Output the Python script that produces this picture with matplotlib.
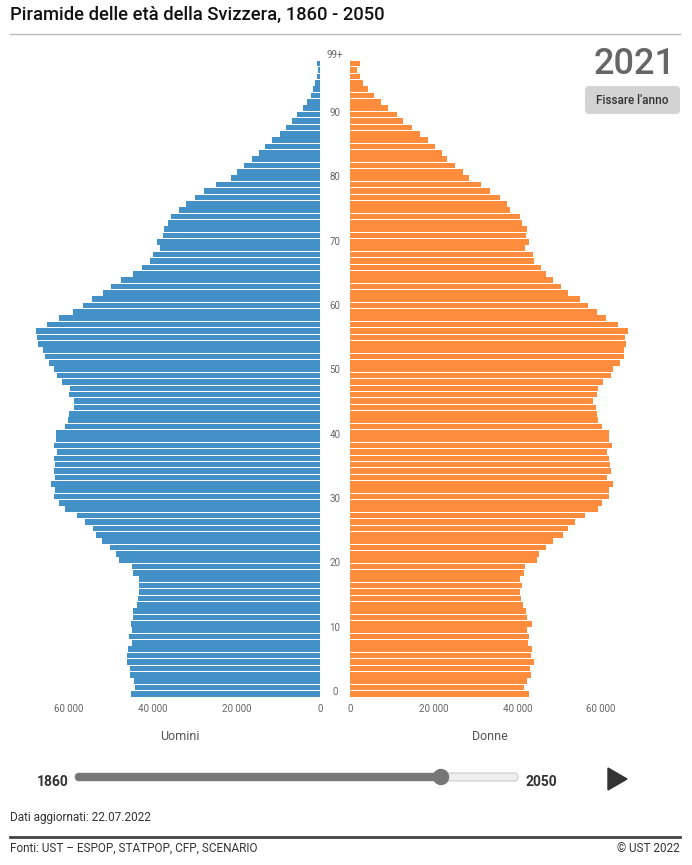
import matplotlib
matplotlib.use("Agg")
import matplotlib.pyplot as plt
from matplotlib.patches import FancyBboxPatch, Circle, Polygon
from matplotlib.transforms import blended_transform_factory

plt.rcParams['font.family'] = ['Roboto', 'DejaVu Sans']

# population by age (thousands), 2021
ages = list(range(100))
men = [45.2, 44.2, 44.5, 45.5, 45.5, 46.1, 46.1, 46.0, 44.9, 45.6,
       44.9, 45.2, 44.8, 44.8, 43.7, 43.4, 43.3, 43.3, 43.2, 44.6,
       44.9, 48.1, 48.7, 50.1, 52.0, 53.6, 54.2, 56.2, 58.2, 61.0,
       62.5, 63.7, 63.3, 64.4, 63.3, 63.6, 63.4, 63.6, 62.9, 63.7,
       63.2, 63.1, 61.0, 60.2, 59.9, 58.9, 58.7, 60.0, 59.8, 61.6,
       62.8, 63.5, 64.8, 65.7, 66.2, 67.4, 67.6, 68.0, 65.3, 62.5,
       59.0, 56.7, 54.4, 51.9, 50.0, 47.6, 44.7, 42.5, 40.6, 39.9,
       38.2, 38.9, 37.6, 37.3, 36.4, 35.7, 33.7, 32.0, 29.9, 27.8,
       24.8, 21.2, 19.9, 18.2, 16.3, 14.7, 13.2, 11.5, 9.6, 8.2,
       6.8, 5.4, 4.1, 3.1, 2.2, 1.6, 1.1, 0.7, 0.4, 0.6]
women = [42.9, 41.5, 42.3, 43.2, 43.1, 44.1, 43.3, 43.4, 42.5, 42.7,
         42.4, 43.4, 42.4, 42.0, 41.4, 40.9, 40.7, 41.0, 40.6, 41.5,
         41.8, 44.6, 45.2, 46.9, 48.6, 51.0, 52.0, 53.9, 56.1, 59.2,
         60.3, 61.8, 61.9, 62.9, 61.5, 62.3, 62.2, 62.0, 61.4, 62.6,
         61.9, 61.8, 60.2, 59.2, 59.0, 58.7, 58.2, 59.0, 59.3, 60.5,
         62.5, 62.9, 64.5, 65.4, 65.4, 66.1, 65.7, 66.5, 64.1, 61.2,
         59.0, 57.0, 55.0, 52.2, 50.5, 48.5, 46.8, 45.6, 44.1, 43.7,
         41.8, 42.7, 42.0, 42.2, 41.2, 40.6, 38.2, 37.5, 35.9, 33.5,
         31.2, 28.4, 26.9, 25.1, 23.2, 22.0, 20.4, 18.6, 16.7, 14.8,
         12.7, 11.2, 9.1, 7.3, 5.7, 4.4, 3.2, 2.4, 1.6, 2.5]
men = [v * 1000 for v in men]
women = [v * 1000 for v in women]

age_ticks = [0, 10, 20, 30, 40, 50, 60, 70, 80, 90, 99]
age_labels = ["0", "10", "20", "30", "40", "50", "60", "70", "80", "90", "99+"]
x_ticks = [0, 20000, 40000, 60000]
x_labels = ["0", "20 000", "40 000", "60 000"]

blue = "#4391c6"
orange = "#fd8d3c"

W, H = 692, 865
fig = plt.figure(figsize=(W / 100, H / 100), dpi=100)


def px_axes(x0, y0, x1, y1):
    return fig.add_axes([x0 / W, 1 - y1 / H, (x1 - x0) / W, (y1 - y0) / H])


ppu = 4.183 / 1000  # pixels per person
ylim = (-0.97, 101.15)

ax_l = px_axes(20, 50, 320, 700)
ax_l.barh(ages, men, height=0.88, color=blue)
ax_l.set_xlim(300 / ppu, 0)
ax_l.set_ylim(*ylim)

ax_r = px_axes(350, 50, 670, 700)
ax_r.barh(ages, women, height=0.88, color=orange)
ax_r.set_xlim(0, 320 / ppu)
ax_r.set_ylim(*ylim)

for ax in (ax_l, ax_r):
    ax.patch.set_visible(False)
    for s in ax.spines.values():
        s.set_visible(False)
    ax.set_yticks([])
    ax.set_xticks(x_ticks)
    ax.set_xticklabels(x_labels)
    ax.tick_params(axis='x', length=0, pad=3, labelsize=7, labelcolor='#666')

# age labels between the two halves
tr = blended_transform_factory(ax_r.transAxes, ax_r.transData)
for a, lab in zip(age_ticks, age_labels):
    ax_r.text(-15 / 320, a * 1.0108 + 0.28, lab, transform=tr, ha='center',
              va='center', fontsize=7, color='#666')

# overlay in pixel coordinates for the surrounding widgets
ov = fig.add_axes([0, 0, 1, 1], zorder=-1)
ov.set_xlim(0, W)
ov.set_ylim(H, 0)
ov.axis('off')

ov.text(10, 15, "Piramide delle età della Svizzera, 1860 - 2050", fontsize=13.2,
        color='#111', va='center', ha='left', fontweight='medium')
ov.plot([10, 680], [34, 34], color='#bbb', lw=1)

ov.text(676, 64, "2021", fontsize=26, color='#666', ha='right', va='center',
        fontweight='medium')
ov.add_patch(FancyBboxPatch((585, 86), 95, 28, boxstyle="round,pad=0,rounding_size=4",
                            facecolor='#d3d3d3', edgecolor='none'))
ov.text(632.5, 100, "Fissare l'anno", fontsize=8.5, color='#333', ha='center',
        va='center', fontweight='medium')

ov.text(180, 737, "Uomini", fontsize=9, color='#555', ha='center', va='center')
ov.text(490, 737, "Donne", fontsize=9, color='#555', ha='center', va='center')

# slider
ov.add_patch(FancyBboxPatch((75, 773), 443, 8, boxstyle="round,pad=0,rounding_size=4",
                            facecolor='#eeeeee', edgecolor='#cccccc', lw=0.8))
ov.add_patch(FancyBboxPatch((75, 773), 366, 8, boxstyle="round,pad=0,rounding_size=4",
                            facecolor='#777777', edgecolor='none'))
ov.add_patch(Circle((441, 777), 7.5, color='#777777'))
ov.text(53, 782, "1860", fontsize=10, fontweight='bold', color='#333', ha='center', va='center')
ov.text(541, 782, "2050", fontsize=10, fontweight='bold', color='#333', ha='center', va='center')
ov.add_patch(Polygon([(608, 768), (608, 790), (627, 779)], closed=True, color='#333'))

ov.text(10, 817, "Dati aggiornati: 22.07.2022", fontsize=8.5, color='#333', va='center')
ov.plot([10, 680], [837, 837], color='#444', lw=2)
ov.text(10, 848, "Fonti: UST – ESPOP, STATPOP, CFP, SCENARIO", fontsize=8.5,
        color='#333', va='center')
ov.text(680, 848, "© UST 2022", fontsize=8.5, color='#333', va='center', ha='right')

fig.savefig("out.png", dpi=100)
